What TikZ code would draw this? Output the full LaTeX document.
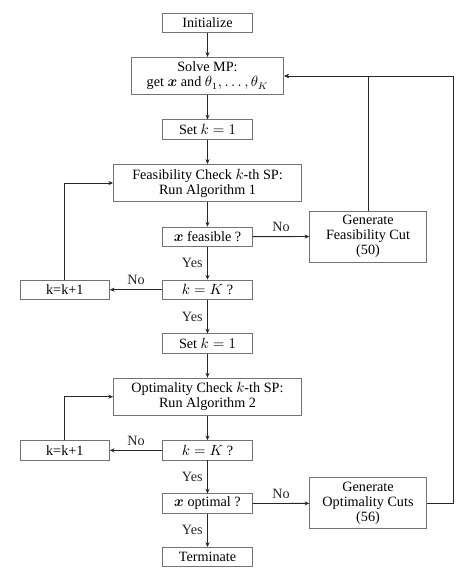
\documentclass[tikz,border=0pt]{standalone}
\usepackage{amsmath}
\usepackage{fontspec}
\setmainfont{Liberation Serif}
\usetikzlibrary{arrows.meta}
\begin{document}
\begin{tikzpicture}[x=0.026cm, y=-0.026cm,
    every node/.style={font=\fontsize{10.5}{11.2}\selectfont},
    box/.style={draw=black!55, line width=0.6pt, align=center, inner sep=1pt},
    small/.style={box, minimum width=2.32cm, minimum height=0.5cm},
    check/.style={box, minimum width=4.89cm, minimum height=0.97cm},
    cut/.style={box, minimum width=3.03cm, minimum height=1.33cm},
    link/.style={-{Stealth[length=3.5pt, width=3pt]}, line width=0.6pt, black!85}]
        \useasboundingbox (0,0) rectangle (474,582);

        % Master problem
        \node[small] (init) at (207.5, 23) {Initialize};
        \node[box, minimum width=3.97cm, minimum height=0.97cm] (solve) at (207.5, 76) {Solve MP:\\ get $\boldsymbol{x}$ and $\theta_1,\dots,\theta_K$};

        % Feasibility part
        \node[small] (seta) at (207.5, 129.5) {Set $k = 1$};
        \node[check] (feas) at (207.5, 183) {Feasibility Check $k$-th SP:\\ Run Algorithm 1};
        \node[small] (xfeas) at (207.5, 236.7) {$\boldsymbol{x}$ feasible ?};
        \node[small] (kka) at (207.5, 289.7) {$k = K$ ?};
        \node[small] (inca) at (64.8, 289.7) {k=k+1};
        \node[cut] (feascut) at (368, 236.5) {Generate\\ Feasibility Cut\\ (50)};

        % Optimality part
        \node[small] (setb) at (207.5, 343.5) {Set $k = 1$};
        \node[check] (opt) at (207.5, 396.7) {Optimality Check $k$-th SP:\\ Run Algorithm 2};
        \node[small] (kkb) at (207.5, 450.3) {$k = K$ ?};
        \node[small] (incb) at (64.8, 450.3) {k=k+1};
        \node[small] (xopt) at (207.5, 503.5) {$\boldsymbol{x}$ optimal ?};
        \node[cut] (optcut) at (368, 503.3) {Generate\\ Optimality Cuts\\ (56)};
        \node[small] (term) at (207.5, 557) {Terminate};
        \coordinate (back) at (453.3, 503.3);

        % Arrows
        \draw[link] (init) -- (solve);
        \draw[link] (solve) -- (seta);
        \draw[link] (seta) -- (feas);
        \draw[link] (feas) -- (xfeas);
        \draw[link] (xfeas) -- node[left] {Yes} (kka);
        \draw[link] (xfeas) -- node[above] {No} (feascut);
        \draw[link] (kka) -- node[above] {No} (inca);
        \draw[link] (inca.north) |- (feas.west);
        \draw[link] (feascut.north) |- (solve.east);
        \draw[link] (kka) -- node[left] {Yes} (setb);
        \draw[link] (setb) -- (opt);
        \draw[link] (opt) -- (kkb);
        \draw[link] (kkb) -- node[above] {No} (incb);
        \draw[link] (incb.north) |- (opt.west);
        \draw[link] (kkb) -- node[left] {Yes} (xopt);
        \draw[link] (xopt) -- node[above] {No} (optcut);
        \draw[link] (xopt) -- node[left] {Yes} (term);
        \draw[link] (optcut.east) -- (back) |- (solve.east);
\end{tikzpicture}
\end{document}
